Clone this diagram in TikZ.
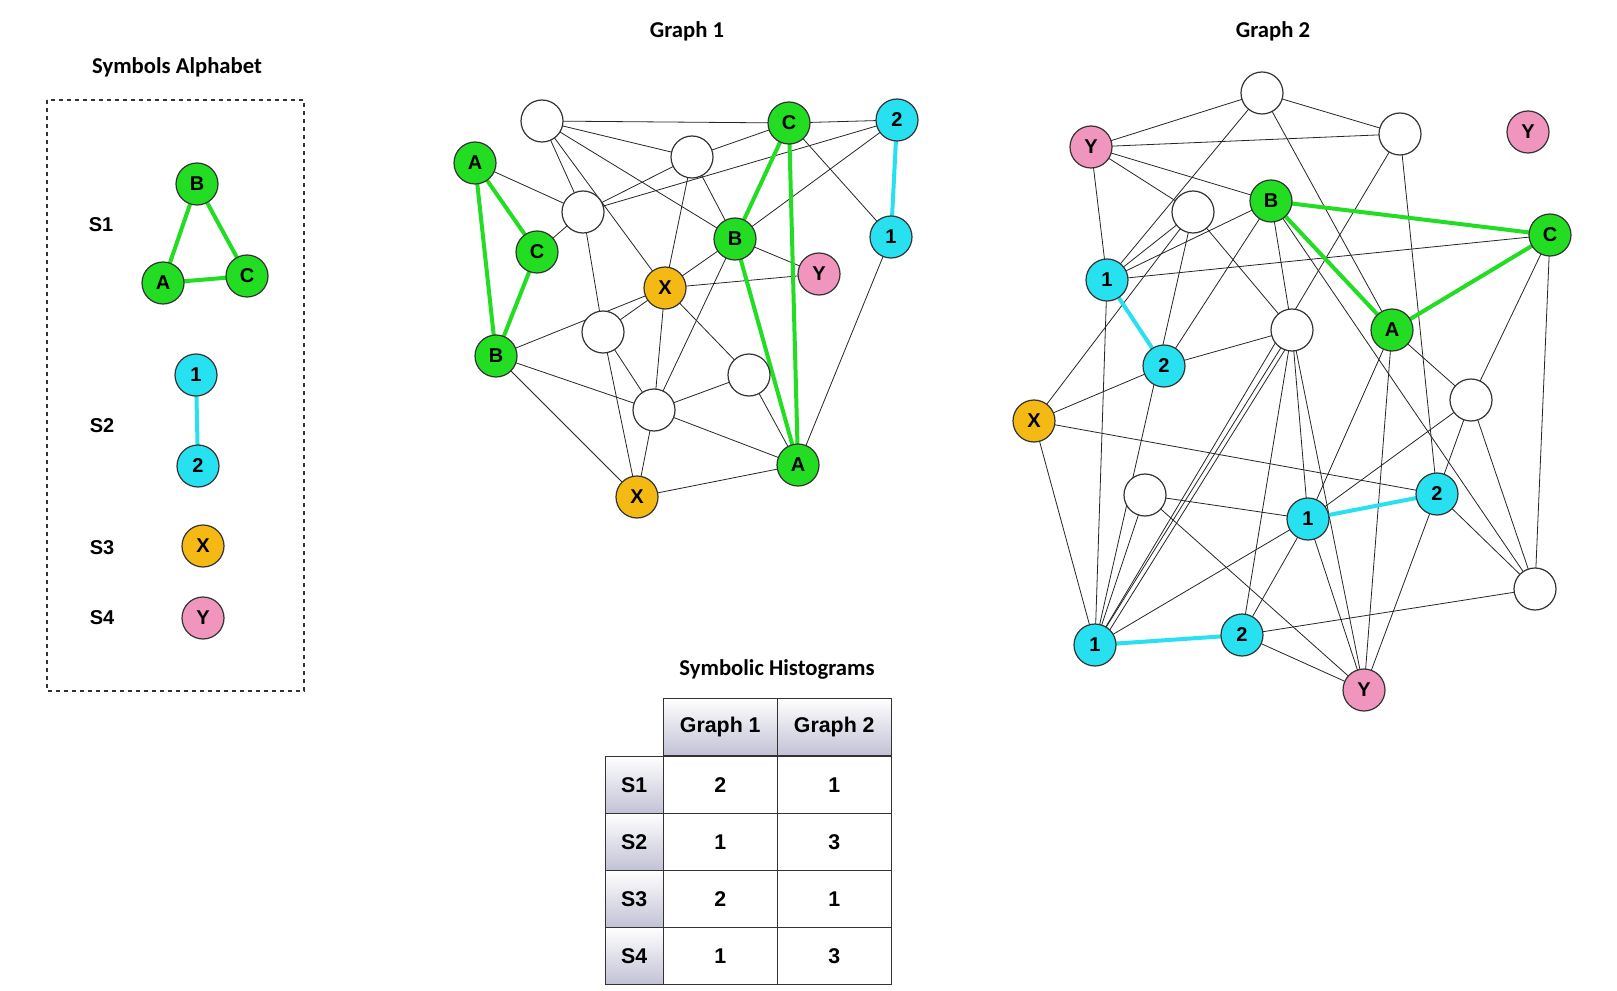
\documentclass[tikz,border=0pt]{standalone}
\usepackage{fontspec}
\setmainfont{Liberation Sans}
\newfontfamily\calfnt{Carlito}
\definecolor{gC}{RGB}{34,221,34}
\definecolor{cC}{RGB}{40,225,240}
\definecolor{oC}{RGB}{245,185,20}
\definecolor{pC}{RGB}{240,150,190}
\begin{document}
\begin{tikzpicture}[x=0.75pt,y=-0.75pt,
 n/.style={circle,draw=black!80,line width=0.9pt,minimum size=31.5pt,inner sep=0pt,font=\fontsize{15}{15}\selectfont\bfseries},
 w/.style={n,fill=white},
 g/.style={n,fill=gC},
 cy/.style={n,fill=cC},
 yx/.style={n,fill=oC},
 py/.style={n,fill=pC},
 e/.style={draw=black!85,line width=0.6pt},
 ge/.style={draw=gC,line width=3pt},
 ce/.style={draw=cC,line width=3pt},
 ttl/.style={font=\calfnt\fontsize{17}{17}\selectfont\bfseries},
 lab/.style={font=\fontsize{15}{15}\selectfont\bfseries},
 hc/.style={draw=black!80,top color=white,bottom color=blue!20!gray!40,font=\fontsize{16}{16}\selectfont\bfseries},
 bc/.style={draw=black!80,fill=white,font=\fontsize{16}{16}\selectfont\bfseries}]
\useasboundingbox[fill=white] (0,0) rectangle (1617,991);
% legend
\node[ttl] (tsa) at (177,67) {Symbols Alphabet};
\draw[dashed,line width=1.2pt,black!80] (47,100) rectangle (304,691);
\node[lab] (ls1) at (101,225) {S1};
\node[lab] (ls2) at (102,426) {S2};
\node[lab] (ls3) at (102,548) {S3};
\node[lab] (ls4) at (102,618) {S4};
\coordinate (pB) at (197,184); \coordinate (pA) at (163,283); \coordinate (pC) at (247,276);
\coordinate (p1) at (196,375); \coordinate (p2) at (198,466);
\draw[ge] (pB) -- (pA); \draw[ge] (pB) -- (pC); \draw[ge] (pA) -- (pC);
\draw[ce] (p1) -- (p2);
\node[g] (lB) at (pB) {B};
\node[g] (lA) at (pA) {A};
\node[g] (lC) at (pC) {C};
\node[cy] (l1) at (p1) {1};
\node[cy] (l2) at (p2) {2};
\node[yx] (lX) at (203,546) {X};
\node[py] (lY) at (203,618) {Y};
% titles
\node[ttl] (tg1) at (687,31) {Graph 1};
\node[ttl] (tg2) at (1273,31) {Graph 2};
% Graph 1 coordinates
\coordinate (aW1) at (542,121); \coordinate (aA) at (475,163);
\coordinate (aCl) at (537,252); \coordinate (aW2) at (583,212);
\coordinate (aW3) at (692,157); \coordinate (aCt) at (789,123);
\coordinate (a2) at (897,120); \coordinate (a1) at (891,237);
\coordinate (aB) at (735,239); \coordinate (aY) at (819,274);
\coordinate (aX) at (665,288); \coordinate (aW4) at (603,332);
\coordinate (aBl) at (496,356); \coordinate (aW5) at (749,375);
\coordinate (aW6) at (654,410); \coordinate (aAb) at (798,465);
\coordinate (aXb) at (637,497);
% Graph 2 coordinates
\coordinate (bWt) at (1262,93); \coordinate (bWtr) at (1400,134);
\coordinate (bY1) at (1091,147); \coordinate (bYi) at (1528,132);
\coordinate (bWl) at (1193,212); \coordinate (bB) at (1271,201);
\coordinate (bC) at (1550,235); \coordinate (b1a) at (1107,280);
\coordinate (bA) at (1392,330); \coordinate (bWm) at (1292,330);
\coordinate (b2a) at (1164,366); \coordinate (bX) at (1034,421);
\coordinate (bWr) at (1471,400); \coordinate (bWlo) at (1145,495);
\coordinate (b2b) at (1437,494); \coordinate (b1b) at (1308,519);
\coordinate (bWbr) at (1535,589); \coordinate (b1c) at (1095,645);
\coordinate (b2c) at (1242,635); \coordinate (bY2) at (1364,690);
% edges graph 1
\foreach \p/\q in {aW1/aCt,aW1/aW3,aW1/aW2,aW1/aX,aW1/aB,aA/aW2,aCl/aW2,aW2/aW3,aW2/a2,aW2/aW4,
 aW3/aCt,aW3/aX,aW3/aB,aCt/a2,aCt/a1,a2/aB,a1/aAb,aB/aY,aB/aX,aB/aW6,aX/aY,aX/aBl,aX/aW4,aX/aW6,aX/aW5,
 aW4/aW6,aW4/aXb,aBl/aW6,aBl/aXb,aW5/aW6,aW5/aAb,aW6/aAb,aW6/aXb,aXb/aAb}
 \draw[e] (\p) -- (\q);
\foreach \p/\q in {aA/aCl,aA/aBl,aCl/aBl,aCt/aB,aCt/aAb,aB/aAb} \draw[ge] (\p) -- (\q);
\draw[ce] (a2) -- (a1);
% edges graph 2
\foreach \p/\q in {bWt/bY1,bWt/bWtr,bWt/b1a,bWt/bA,bY1/bWtr,bY1/bB,bY1/bWl,bY1/b1a,bWtr/b2b,bWtr/b1c,
 bWl/b1a,bWl/b1c,bWl/bWm,bWl/bX,bB/b1a,bB/b2a,bB/bWm,bB/bWbr,bC/b1a,bC/bWr,bC/bWbr,b1a/b1c,
 b2a/bWm,b2a/bX,bX/b2b,bX/b1c,bWm/b1b,bWm/bY2,bWm/b1c,bWm/b2c,bA/b1b,bA/bY2,bA/bWr,bWr/b1b,bWr/b2b,
 bWr/bWbr,b2b/bWbr,b2b/bY2,b1b/b1c,b1b/b2c,b1b/bY2,bWlo/b1b,bWlo/bY2,bWlo/b1c,b2c/bWbr,b2c/bY2}
 \draw[e] (\p) -- (\q);
\draw[e] ([xshift=4]bWm) -- ([xshift=4]b1c);
\foreach \p/\q in {bB/bC,bB/bA,bC/bA} \draw[ge] (\p) -- (\q);
\foreach \p/\q in {b1a/b2a,b2b/b1b,b1c/b2c} \draw[ce] (\p) -- (\q);
% graph 1 nodes
\node[w] (nW1) at (aW1) {}; \node[g] (nA) at (aA) {A}; \node[g] (nCl) at (aCl) {C};
\node[w] (nW2) at (aW2) {}; \node[w] (nW3) at (aW3) {}; \node[g] (nCt) at (aCt) {C};
\node[cy] (n2) at (a2) {2}; \node[cy] (n1) at (a1) {1}; \node[g] (nB) at (aB) {B};
\node[py] (nY) at (aY) {Y}; \node[yx] (nX) at (aX) {X}; \node[w] (nW4) at (aW4) {};
\node[g] (nBl) at (aBl) {B}; \node[w] (nW5) at (aW5) {}; \node[w] (nW6) at (aW6) {};
\node[g] (nAb) at (aAb) {A}; \node[yx] (nXb) at (aXb) {X};
% graph 2 nodes
\node[w] (mWt) at (bWt) {}; \node[w] (mWtr) at (bWtr) {}; \node[py] (mY1) at (bY1) {Y};
\node[py] (mYi) at (bYi) {Y}; \node[w] (mWl) at (bWl) {}; \node[g] (mB) at (bB) {B};
\node[g] (mC) at (bC) {C}; \node[cy] (m1a) at (b1a) {1}; \node[g] (mA) at (bA) {A};
\node[w] (mWm) at (bWm) {}; \node[cy] (m2a) at (b2a) {2}; \node[yx] (mX) at (bX) {X};
\node[w] (mWr) at (bWr) {}; \node[w] (mWlo) at (bWlo) {}; \node[cy] (m2b) at (b2b) {2};
\node[cy] (m1b) at (b1b) {1}; \node[w] (mWbr) at (bWbr) {}; \node[cy] (m1c) at (b1c) {1};
\node[cy] (m2c) at (b2c) {2}; \node[py] (mY2) at (bY2) {Y};
% table
\node[ttl] (tsh) at (777,669) {Symbolic Histograms};
\foreach \c/\x in {1/663,2/777}{
 \node[hc,minimum width=85.5pt,minimum height=42.75pt,anchor=north west] (h\c) at (\x,698) {Graph \c};}
\foreach \r/\y/\s/\a/\b in {1/756/S1/2/1,2/813/S2/1/3,3/870/S3/2/1,4/927/S4/1/3}{
 \node[hc,minimum width=43.5pt,minimum height=42.75pt,anchor=north west] (r\r) at (605,\y) {\s};
 \node[bc,minimum width=85.5pt,minimum height=42.75pt,anchor=north west] (c\r a) at (663,\y) {\a};
 \node[bc,minimum width=85.5pt,minimum height=42.75pt,anchor=north west] (c\r b) at (777,\y) {\b};}
\end{tikzpicture}
\end{document}
